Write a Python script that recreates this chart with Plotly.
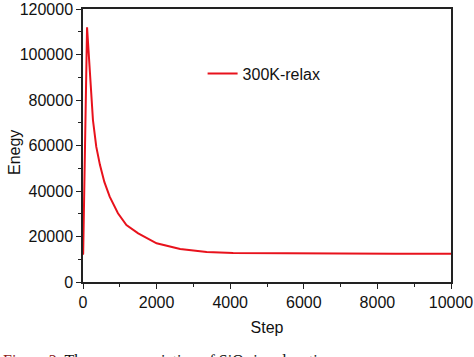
import plotly.graph_objects as go

steps = [0, 5, 110, 180, 270, 360, 460, 580, 725, 950, 1180, 1500, 2000, 2640, 3360, 4080, 5440, 7000, 8500, 10000]
energy = [12000, 12600, 112000, 96100, 71200, 59500, 51500, 44000, 37500, 30200, 25000, 21400, 17000, 14500, 13200, 12700, 12500, 12500, 12450, 12450]
series_name = "300K-relax"
x_ticks = [0, 2000, 4000, 6000, 8000, 10000]
x_labels = ["0", "2000", "4000", "6000", "8000", "10000"]
y_ticks = [0, 20000, 40000, 60000, 80000, 100000, 120000]
y_labels = ["0", "20000", "40000", "60000", "80000", "100000", "120000"]

fig = go.Figure()
fig.add_trace(go.Scatter(x=steps, y=energy, mode="lines", name=series_name,
                         line=dict(color="#e8121c", width=2)))

axis_common = dict(showline=True, linecolor="#222", linewidth=1.5, mirror=True,
                   ticks="outside", ticklen=5, tickwidth=1.2, tickcolor="#222",
                   showgrid=False, zeroline=False,
                   tickfont=dict(family="Liberation Sans, Arial", size=16, color="#111"),
                   automargin=False)

fig.update_xaxes(range=[0, 10000], tickvals=x_ticks, ticktext=x_labels,
                 minor=dict(dtick=1000, ticks="outside", ticklen=3, tickcolor="#222"),
                 title=dict(text="Step", font=dict(family="Liberation Sans, Arial", size=16, color="#111"), standoff=12),
                 **axis_common)
fig.update_yaxes(range=[0, 120000], tickvals=y_ticks, ticktext=y_labels,
                 minor=dict(dtick=10000, ticks="outside", ticklen=3, tickcolor="#222"),
                 **axis_common)

fig.update_layout(
    width=474, height=357,
    margin=dict(l=83, r=23, t=9, b=75),
    paper_bgcolor="white", plot_bgcolor="white",
    showlegend=True,
    legend=dict(x=0.325, y=0.826, xanchor="left", yanchor="top",
                bgcolor="rgba(0,0,0,0)",
                font=dict(family="Liberation Sans, Arial", size=16, color="#111")),
)

fig.add_annotation(xref="paper", yref="paper", x=-0.1875, y=0.4725,
                   xanchor="center", yanchor="middle", showarrow=False, textangle=-90,
                   text="Enegy",
                   font=dict(family="Liberation Sans, Arial", size=16, color="#111"))

fig.add_annotation(xref="paper", yref="paper", x=-0.222, y=-0.25,
                   xanchor="left", yanchor="top", showarrow=False,
                   text="<span style='color:#8b1a1a'>Figure 3.</span> The energy variation of SiO<sub>2</sub> in relaxation",
                   font=dict(family="Liberation Serif, Times New Roman", size=16, color="#111"))

fig.write_html("out.html", config={"displayModeBar": False},
               post_script="document.body.style.margin='0';document.body.style.overflow='hidden';")
